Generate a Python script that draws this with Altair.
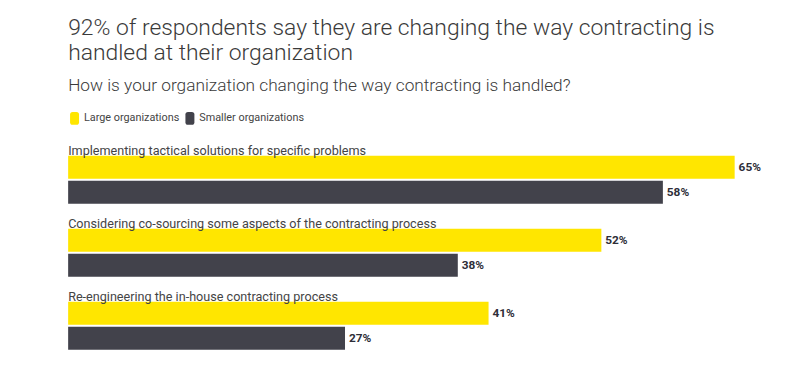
import altair as alt
import pandas as pd

categories = [
    "Implementing tactical solutions for specific problems",
    "Considering co-sourcing some aspects of the contracting process",
    "Re-engineering the in-house contracting process",
]
series = ["Large organizations", "Smaller organizations"]
large_vals = [65, 52, 41]
small_vals = [58, 38, 27]
colors = ["#FFE600", "#42424B"]

rows = []
for c, l, s in zip(categories, large_vals, small_vals):
    rows.append({"category": c, "series": series[0], "value": l, "label": f"{l}%"})
    rows.append({"category": c, "series": series[1], "value": s, "label": f"{s}%"})
df = pd.DataFrame(rows)
cat_df = pd.DataFrame({"category": categories, "series": [" "] * len(categories), "value": [0] * len(categories)})

FONT = "Roboto"
off_domain = [" "] + series

y = alt.Y("category:N", sort=categories, axis=None,
          scale=alt.Scale(paddingInner=0, paddingOuter=0))
yoff = alt.YOffset("series:N", sort=off_domain,
                   scale=alt.Scale(domain=off_domain, paddingInner=0.08, paddingOuter=0))
x = alt.X("value:Q", axis=None, scale=alt.Scale(domain=[0, 65], nice=False, zero=True))

rounded = ("M-0.3,-1 L0.3,-1 Q0.7,-1 0.7,-0.6 L0.7,0.6 Q0.7,1 0.3,1 "
           "L-0.3,1 Q-0.7,1 -0.7,0.6 L-0.7,-0.6 Q-0.7,-1 -0.3,-1 Z")

bars = alt.Chart(df).mark_bar().encode(
    x=x, y=y, yOffset=yoff,
    color=alt.Color("series:N", scale=alt.Scale(domain=series, range=colors),
                    legend=alt.Legend(title=None, orient="top", direction="horizontal",
                                      labelFont=FONT, labelFontSize=11, labelColor="#444444",
                                      symbolType=rounded, symbolSize=169, symbolOpacity=1,
                                      symbolStrokeWidth=0, columnPadding=4, labelOffset=3,
                                      offset=6)),
)

values = alt.Chart(df).mark_text(align="left", baseline="middle", dx=4, font=FONT,
                                 fontSize=12, fontWeight="bold", color="#2E2E38").encode(
    x=x, y=y, yOffset=yoff, text="label:N")

cat_labels = alt.Chart(cat_df).mark_text(align="left", baseline="alphabetic", dy=13, font=FONT,
                                         fontSize=12.8, color="#444444").encode(
    x=x, y=y, yOffset=yoff, text="category:N")

chart = alt.layer(bars, values, cat_labels).properties(
    width=676, height=222,
    background="white",
    padding={"left": 61, "top": 6, "right": 20, "bottom": 10},
    title=alt.TitleParams(
        text=["92% of respondents say they are changing the way contracting is",
              "handled at their organization"],
        subtitle="How is your organization changing the way contracting is handled?",
        anchor="start", font=FONT, fontSize=23.2, fontWeight=300, color="#3a3a3a",
        lineHeight=25, subtitleFont=FONT, subtitleFontSize=17.5, subtitleFontWeight=300,
        subtitleColor="#3a3a3a", subtitlePadding=12, offset=17),
).configure_view(strokeWidth=0)

chart.save("out.html", embed_options={"renderer": "svg", "actions": False})
